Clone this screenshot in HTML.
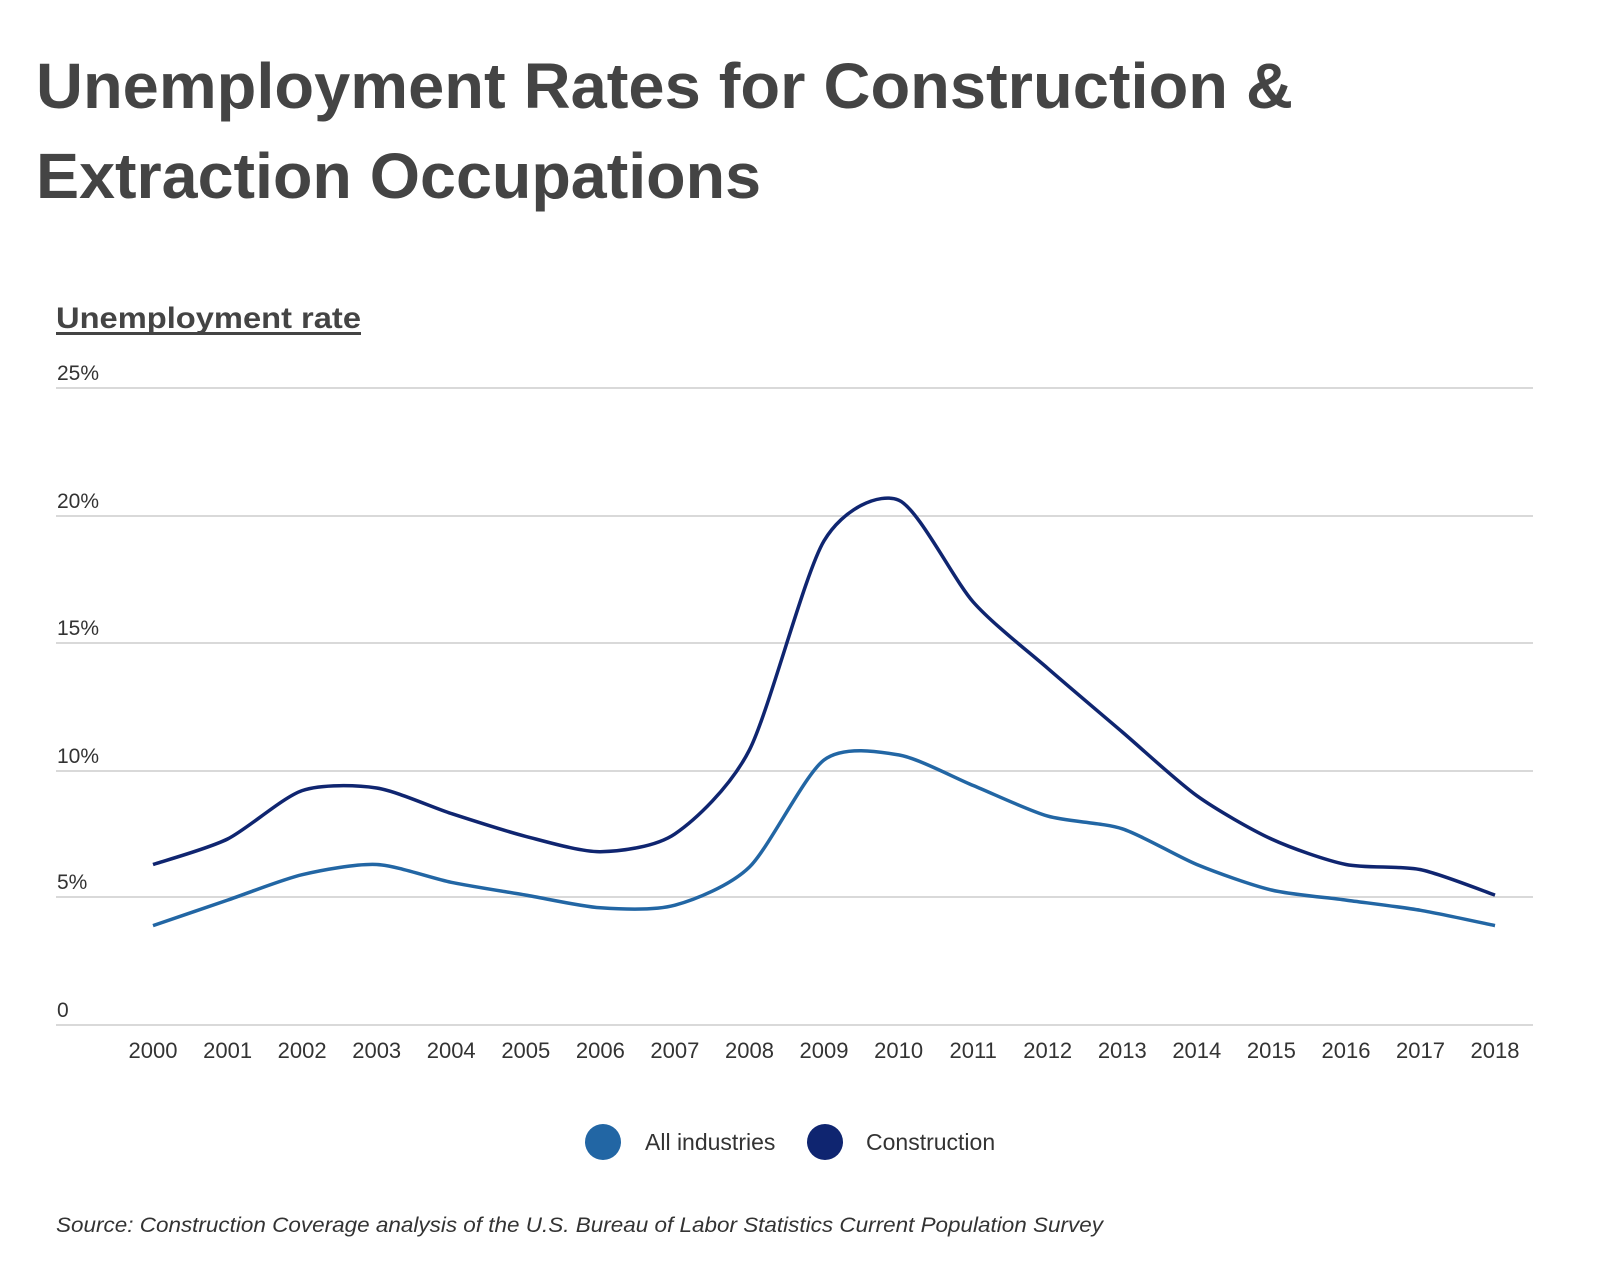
<!DOCTYPE html>
<html><head><meta charset="utf-8"><style>
html,body{margin:0;padding:0;background:#fff;}
svg{display:block;font-family:"Liberation Sans",sans-serif;}
</style></head><body>
<svg width="1600" height="1282" viewBox="0 0 1600 1282" xmlns="http://www.w3.org/2000/svg">
<rect width="1600" height="1282" fill="#fff"/>
<text x="36" y="108" font-size="64" font-weight="bold" fill="#444" textLength="1257" lengthAdjust="spacingAndGlyphs">Unemployment Rates for Construction &amp;</text>
<text x="36" y="198" font-size="64" font-weight="bold" fill="#444" textLength="725" lengthAdjust="spacingAndGlyphs">Extraction Occupations</text>
<text x="56" y="328" font-size="30" font-weight="bold" fill="#444" textLength="305" lengthAdjust="spacingAndGlyphs">Unemployment rate</text>
<rect x="56" y="332" width="305" height="3" fill="#444"/>
<g stroke="#d9d9d9" stroke-width="2">
<line x1="56" x2="1533" y1="388" y2="388"/><line x1="56" x2="1533" y1="516" y2="516"/>
<line x1="56" x2="1533" y1="643" y2="643"/><line x1="56" x2="1533" y1="771" y2="771"/>
<line x1="56" x2="1533" y1="897" y2="897"/><line x1="56" x2="1533" y1="1025" y2="1025"/>
</g>
<g font-size="21" fill="#333">
<text x="57" y="380">25%</text><text x="57" y="508">20%</text><text x="57" y="635">15%</text>
<text x="57" y="763">10%</text><text x="57" y="889">5%</text><text x="57" y="1017">0</text>
</g>
<path id="c" fill="none" stroke="#0f2570" stroke-width="3.5" stroke-linejoin="round" d="M153,864.5 L227.6,839 L302.1,790.6 L376.7,788 L451.2,813.5 L525.8,836.4 L600.4,851.7 L674.9,833.9 L749.5,749.8 L824,540.9 L898.6,500.1 L973.2,602 L1047.7,668.3 L1122.3,732 L1196.8,795.7 L1271.4,839 L1346,864.5 L1420.5,869.6 L1495,895.1"/>
<path id="a" fill="none" stroke="#2266a4" stroke-width="3.5" stroke-linejoin="round" d="M153,925.6 L227.6,900.1 L302.1,874.7 L376.7,864.5 L451.2,882.3 L525.8,895.1 L600.4,907.8 L674.9,905.2 L749.5,867 L824,760 L898.6,754.9 L973.2,785.5 L1047.7,816.1 L1122.3,828.8 L1196.8,864.5 L1271.4,890 L1346,900.1 L1420.5,910.3 L1495,925.6"/>
<g font-size="22" fill="#333" text-anchor="middle">
<text x="153" y="1058">2000</text><text x="227.6" y="1058">2001</text><text x="302.1" y="1058">2002</text><text x="376.7" y="1058">2003</text><text x="451.2" y="1058">2004</text><text x="525.8" y="1058">2005</text><text x="600.4" y="1058">2006</text><text x="674.9" y="1058">2007</text><text x="749.5" y="1058">2008</text><text x="824" y="1058">2009</text><text x="898.6" y="1058">2010</text><text x="973.2" y="1058">2011</text><text x="1047.7" y="1058">2012</text><text x="1122.3" y="1058">2013</text><text x="1196.8" y="1058">2014</text><text x="1271.4" y="1058">2015</text><text x="1346" y="1058">2016</text><text x="1420.5" y="1058">2017</text><text x="1495" y="1058">2018</text>
</g>
<circle cx="603" cy="1142" r="18" fill="#2266a4"/>
<text x="645" y="1150" font-size="23" fill="#333">All industries</text>
<circle cx="825" cy="1142" r="18" fill="#0f2570"/>
<text x="866" y="1150" font-size="23" fill="#333">Construction</text>
<text x="56" y="1232" font-size="21" font-style="italic" fill="#333" textLength="1047" lengthAdjust="spacingAndGlyphs">Source: Construction Coverage analysis of the U.S. Bureau of Labor Statistics Current Population Survey</text>
</svg>
<script>
function smooth(id){var p=document.getElementById(id);var pts=p.getAttribute('d').replace(/[ML]/g,' ').trim().split(/\s+/).map(function(s){return s.split(',').map(Number);});
var d='M'+pts[0][0]+','+pts[0][1];for(var i=0;i<pts.length-1;i++){var p0=pts[i-1]||pts[i],p1=pts[i],p2=pts[i+1],p3=pts[i+2]||p2;var t=0.13;
d+=' C'+(p1[0]+(p2[0]-p0[0])*t)+','+(p1[1]+(p2[1]-p0[1])*t)+' '+(p2[0]-(p3[0]-p1[0])*t)+','+(p2[1]-(p3[1]-p1[1])*t)+' '+p2[0]+','+p2[1];}
p.setAttribute('d',d);}
smooth('c');smooth('a');
</script>
</body></html>
